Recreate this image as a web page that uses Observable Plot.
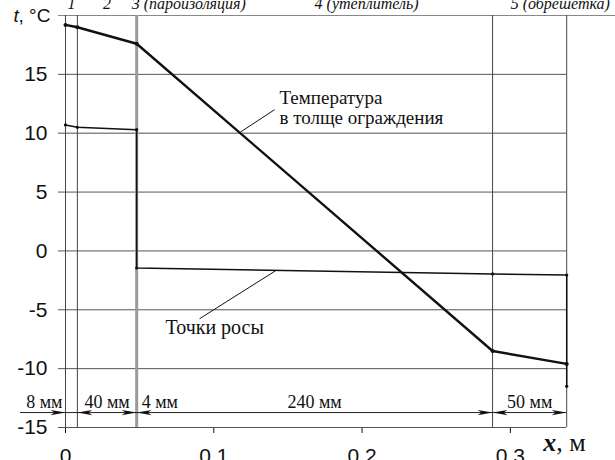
<!DOCTYPE html>
<html>
<head>
<meta charset="utf-8">
<script src="https://cdn.jsdelivr.net/npm/d3@7"></script>
<script src="https://cdn.jsdelivr.net/npm/@observablehq/plot@0.6"></script>
<style>
  html, body { margin: 0; padding: 0; background: #fff; overflow: hidden; }
</style>
</head>
<body>
<script>
// ---- data ----
const layerNames = ["1", "2", "3 (пароизоляция)", "4 (утеплитель)", "5 (обрешетка)"];
const layerDims = ["8 мм", "40 мм", "4 мм", "240 мм", "50 мм"];
const layerStart = [0, 0.008, 0.048, 0.048, 0.288];
const layerEnd = [0.008, 0.048, 0.048, 0.288, 0.338];
const boundaryX = [0, 0.008, 0.048, 0.288, 0.338];

const tempX = [0, 0.008, 0.048, 0.288, 0.338];
const tempT = [19.2, 19.0, 17.6, -8.5, -9.6];

const dewX = [0, 0.008, 0.048, 0.048, 0.288, 0.338, 0.338];
const dewT = [10.7, 10.5, 10.3, -1.45, -1.95, -2.05, -11.5];

const yTicks = [-15, -10, -5, 0, 5, 10, 15];
const xTicks = [0, 0.1, 0.2, 0.3];

const tempLabel = "Температура\nв толще ограждения";
const dewLabel = "Точки росы";

// ---- layout helpers ----
const xMin = -0.00472, xMax = 0.3709;
const yMin = -15, yMax = 20;
const dimY = -13.73;
const serif = "'Liberation Serif', 'Times New Roman', Times, serif";
const sans = "'Liberation Sans', Arial, sans-serif";

const temp = tempX.map((x, i) => ({x, t: tempT[i]}));
const dew = dewX.map((x, i) => ({x, t: dewT[i]}));
const layers = layerNames.map((name, i) => ({
  name, dim: layerDims[i], start: layerStart[i], end: layerEnd[i],
  mid: (layerStart[i] + layerEnd[i]) / 2
}));

// top label placement styles
const topAnchor = ["middle", "middle", "start", "start", "start"];
const topDx = [0, 0, -5, 0, -19];
// dimension label placement styles
const dimAnchor = ["end", "middle", "start", "middle", "middle"];
const dimDx = [-3, 0, 5, 0, 0];
const dimAt = (l, i) => (i === 0 || i === 2) ? l.start : l.mid;

// arrowheads for dimension line
const arrowsRight = [boundaryX[0], boundaryX[2], boundaryX[3], boundaryX[4]];
const arrowsLeft = [boundaryX[1], boundaryX[2], boundaryX[3]];
const arrowR = {draw(ctx) { ctx.moveTo(0, 0); ctx.lineTo(-15, -2.6); ctx.lineTo(-11, 0); ctx.lineTo(-15, 2.6); ctx.closePath(); }};
const arrowL = {draw(ctx) { ctx.moveTo(0, 0); ctx.lineTo(15, -2.6); ctx.lineTo(11, 0); ctx.lineTo(15, 2.6); ctx.closePath(); }};

const marks = [
  // horizontal grid
  Plot.ruleY(yTicks, {y: d => d, x1: xMin, x2: boundaryX[4], stroke: d => d === 10 ? "#8a8a8a" : "#555", strokeWidth: d => d === 10 ? 1.6 : 1}),
  Plot.ruleY([yMax], {y: d => d, x1: xMin, x2: xMax, stroke: "#888", strokeWidth: 1.2}),
  // layer boundaries
  Plot.ruleX(boundaryX.filter((d, i) => i !== 2), {x: d => d, y1: yMin, y2: yMax, stroke: "#444", strokeWidth: 1}),
  Plot.ruleX([boundaryX[2]], {x: d => d, y1: yMin, y2: yMax, stroke: "#9a9a9a", strokeWidth: 3}),
  // dimension line
  Plot.ruleY([dimY], {y: d => d, x1: -0.0303, x2: boundaryX[4], stroke: "#222", strokeWidth: 1}),
  Plot.dot(arrowsRight, {x: d => d, y: () => dimY, symbol: arrowR, fill: "#111", stroke: "none", r: 3}),
  Plot.dot(arrowsLeft, {x: d => d, y: () => dimY, symbol: arrowL, fill: "#111", stroke: "none", r: 3}),
  // series
  Plot.line(dew, {x: "x", y: "t", stroke: "#111", strokeWidth: 1.5}),
  Plot.dot(dew, {x: "x", y: "t", r: 1.6, fill: "#111", stroke: "none"}),
  Plot.line(temp, {x: "x", y: "t", stroke: "#111", strokeWidth: 2.4}),
  Plot.dot(temp, {x: "x", y: "t", r: 2, fill: "#111", stroke: "none"}),
  // leaders
  Plot.link([{x1: 0.118, y1: 10.1, x2: 0.141, y2: 12.0}], {x1: "x1", y1: "y1", x2: "x2", y2: "y2", stroke: "#111", strokeWidth: 1}),
  Plot.link([{x1: 0.0904, y1: -5.76, x2: 0.1416, y2: -1.69}], {x1: "x1", y1: "y1", x2: "x2", y2: "y2", stroke: "#111", strokeWidth: 1}),
  // annotations
  Plot.text([tempLabel], {x: () => 0.1443, y: () => 13.69, text: d => d, textAnchor: "start", lineAnchor: "top",
    lineHeight: 1.05, fontFamily: serif, fontSize: 19, fill: "#111"}),
  Plot.text([dewLabel], {x: () => 0.0674, y: () => -6.49, text: d => d, textAnchor: "start", lineAnchor: "middle",
    fontFamily: serif, fontSize: 20, fill: "#111"}),
  // y axis title
  Plot.text(["t"], {frameAnchor: "top-left", dx: -45, dy: 0, text: d => d, textAnchor: "start", lineAnchor: "middle",
    fontFamily: sans, fontStyle: "italic", fontSize: 19, fill: "#111"}),
  Plot.text([", °C"], {frameAnchor: "top-left", dx: -40, dy: 0, text: d => d, textAnchor: "start", lineAnchor: "middle",
    fontFamily: sans, fontSize: 19, fill: "#111"}),
  // x axis title
  Plot.text(["x"], {x: () => xTicks[3], y: () => yMin, dx: 33, dy: 15, text: d => d, textAnchor: "start", lineAnchor: "middle",
    fontFamily: serif, fontStyle: "italic", fontWeight: "bold", fontSize: 26, fill: "#111"}),
  Plot.text([", м"], {x: () => xTicks[3], y: () => yMin, dx: 46, dy: 15, text: d => d, textAnchor: "start", lineAnchor: "middle",
    fontFamily: serif, fontSize: 26, fill: "#111"})
];

// top layer labels
layers.forEach((l, i) => {
  marks.push(Plot.text([l], {x: "mid", y: () => yMax, text: "name", dx: topDx[i], dy: -12,
    textAnchor: topAnchor[i], lineAnchor: "middle",
    fontFamily: serif, fontStyle: "italic", fontSize: 16, fill: "#111"}));
});
// dimension labels
layers.forEach((l, i) => {
  marks.push(Plot.text([l], {x: d => dimAt(d, i), y: () => dimY, text: "dim", dx: dimDx[i], dy: -10.5,
    textAnchor: dimAnchor[i], lineAnchor: "middle",
    fontFamily: serif, fontSize: 18, fill: "#111"}));
});

const plot = Plot.plot({
  width: 615,
  height: 475,
  marginLeft: 58,
  marginRight: 0,
  marginTop: 15,
  marginBottom: 48,
  style: {fontFamily: sans, fontSize: "21px", background: "#fff", color: "#111", overflow: "visible"},
  x: {domain: [xMin, xMax], ticks: xTicks, tickFormat: d => String(d), tickSize: 6, tickPadding: 15, label: null},
  y: {domain: [yMin, yMax], ticks: yTicks, tickFormat: d => String(d), tickSize: 0, tickPadding: 11, label: null},
  marks
});
document.body.append(plot);
</script>
</body>
</html>
